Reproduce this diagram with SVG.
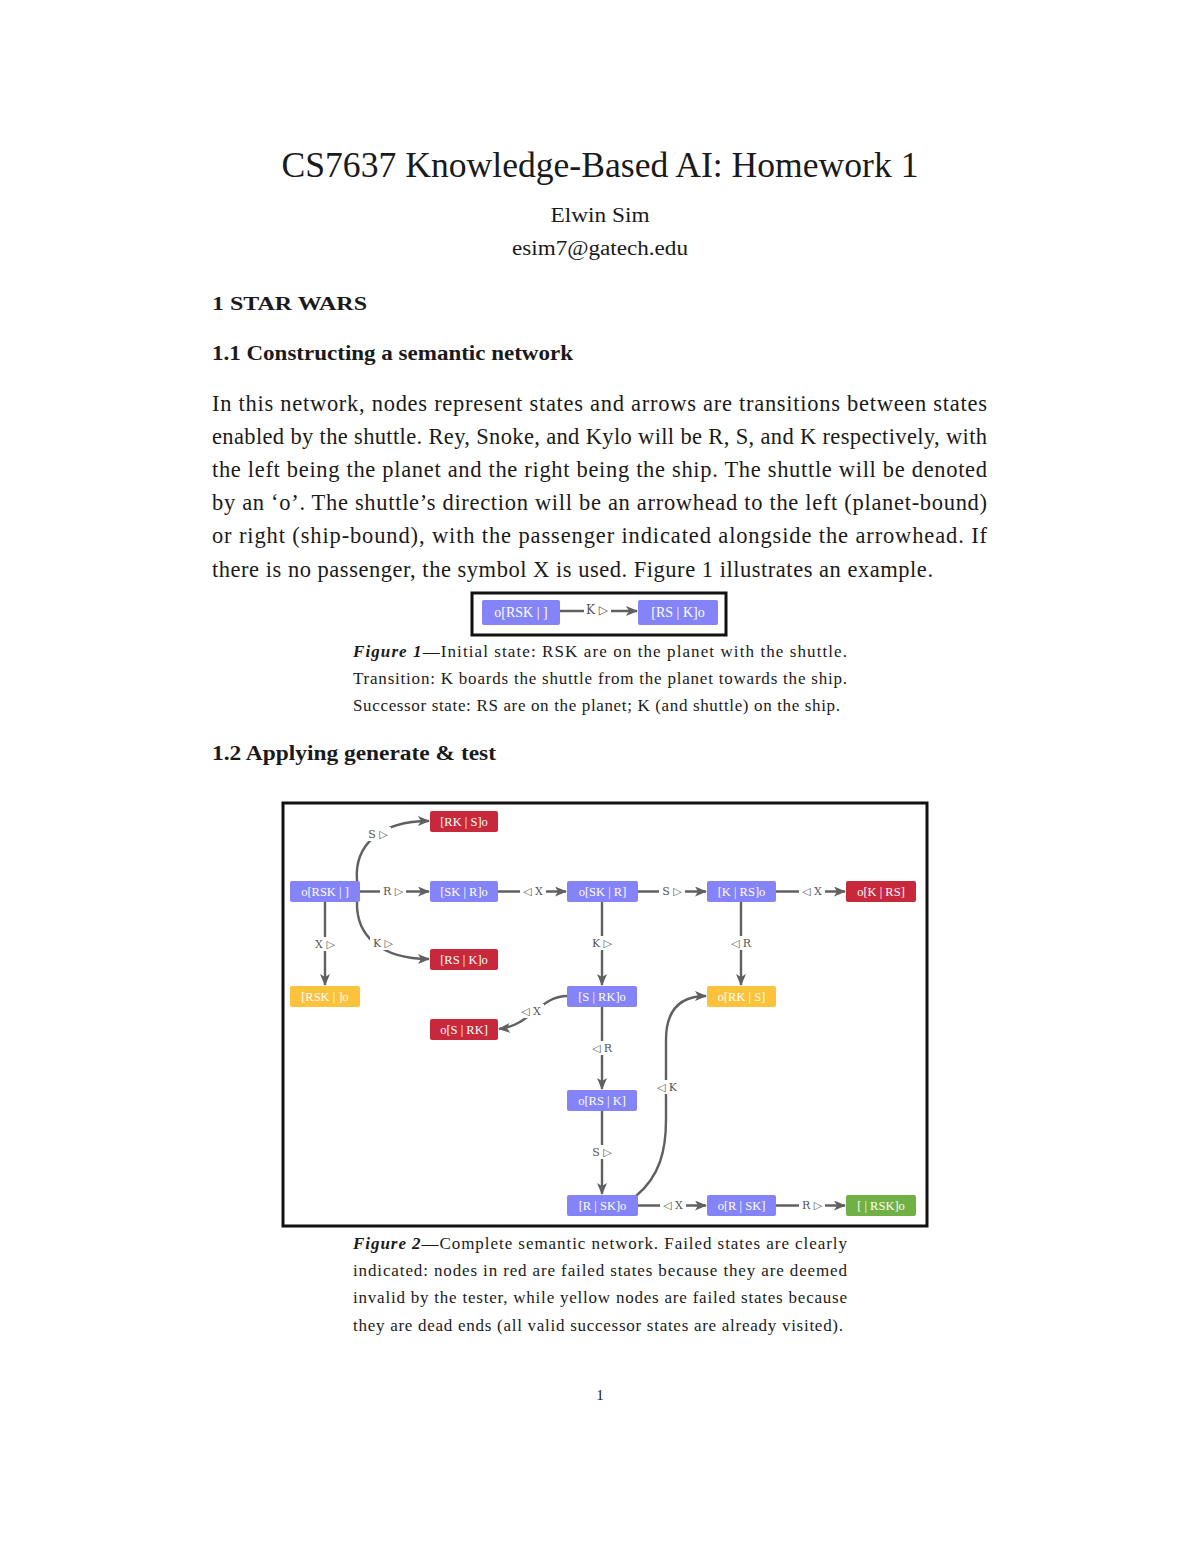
<svg xmlns="http://www.w3.org/2000/svg" width="1200" height="1553" viewBox="0 0 1200 1553">
<defs>
<style>
.t{font-family:"Liberation Serif","DejaVu Serif",serif;fill:#1a1a1a}
.b{font-weight:bold}
.bi{font-weight:bold;font-style:italic}
.nd text{font-family:"Liberation Serif","DejaVu Serif",serif;font-size:12.5px;fill:#ffffff;text-anchor:middle}
.blue{fill:#8484f8}
.red{fill:#c8283c}
.yel{fill:#fcc23c}
.grn{fill:#70b044}
.e{fill:none;stroke:#606060;stroke-width:2.4}
.lb{fill:#ffffff}
.lt{font-family:"DejaVu Serif","Liberation Serif",serif;font-size:11px;fill:#555555;text-anchor:middle}
</style>
<marker id="ah" viewBox="0 0 12 10" refX="11" refY="5" markerWidth="12" markerHeight="10" markerUnits="userSpaceOnUse" orient="auto">
<path d="M0,0 L12,5 L0,10 L3,5 Z" fill="#606060"/>
</marker>
</defs>
<rect width="1200" height="1553" fill="#ffffff"/>

<!-- Header text -->
<text class="t" x="600" y="177" font-size="35" text-anchor="middle" textLength="637" lengthAdjust="spacingAndGlyphs">CS7637 Knowledge-Based AI: Homework 1</text>
<text class="t" x="600" y="222" font-size="20" text-anchor="middle" textLength="99" lengthAdjust="spacingAndGlyphs">Elwin Sim</text>
<text class="t" x="600" y="255" font-size="20" text-anchor="middle" textLength="176" lengthAdjust="spacingAndGlyphs">esim7@gatech.edu</text>
<text class="t b" x="212" y="310" font-size="19" textLength="155" lengthAdjust="spacingAndGlyphs">1 STAR WARS</text>
<text class="t b" x="212" y="360" font-size="20" textLength="361" lengthAdjust="spacingAndGlyphs">1.1 Constructing a semantic network</text>

<text class="t" x="212" y="411" font-size="22.5" textLength="775" lengthAdjust="spacing">In this network, nodes represent states and arrows are transitions between states</text>
<text class="t" x="212" y="444" font-size="22.5" textLength="775" lengthAdjust="spacing">enabled by the shuttle. Rey, Snoke, and Kylo will be R, S, and K respectively, with</text>
<text class="t" x="212" y="477" font-size="22.5" textLength="775" lengthAdjust="spacing">the left being the planet and the right being the ship. The shuttle will be denoted</text>
<text class="t" x="212" y="510" font-size="22.5" textLength="775" lengthAdjust="spacing">by an ‘o’. The shuttle’s direction will be an arrowhead to the left (planet-bound)</text>
<text class="t" x="212" y="543" font-size="22.5" textLength="775" lengthAdjust="spacing">or right (ship-bound), with the passenger indicated alongside the arrowhead. If</text>
<text class="t" x="212" y="577" font-size="22.5" textLength="721" lengthAdjust="spacing">there is no passenger, the symbol X is used. Figure 1 illustrates an example.</text>

<!-- Figure 1 -->
<g id="figure1">
<rect x="472" y="593" width="254" height="42" fill="none" stroke="#111111" stroke-width="3"/>
<g id="f1-n1" class="nd"><rect class="blue" x="482" y="600" width="78" height="25" rx="2"/><text x="521" y="617" style="font-size:14px">o[RSK | ]</text></g>
<g id="f1-n2" class="nd"><rect class="blue" x="638" y="600" width="80" height="25" rx="2"/><text x="678" y="617" style="font-size:14px">[RS | K]o</text></g>
<g id="f1-edges">
<path class="e" d="M560 611 L637 611" marker-end="url(#ah)"/>
<rect class="lb" x="584" y="603" width="27" height="14"/>
<text class="lt" x="597" y="614" style="font-size:12px">K ▷</text>
</g>
</g>
<text class="t" x="353" y="657" font-size="17" textLength="494" lengthAdjust="spacing"><tspan class="bi">Figure 1</tspan>—Initial state: RSK are on the planet with the shuttle.</text>
<text class="t" x="353" y="684" font-size="17" textLength="494" lengthAdjust="spacing">Transition: K boards the shuttle from the planet towards the ship.</text>
<text class="t" x="353" y="711" font-size="17" textLength="487" lengthAdjust="spacing">Successor state: RS are on the planet; K (and shuttle) on the ship.</text>

<text class="t b" x="212" y="760" font-size="20" textLength="284" lengthAdjust="spacingAndGlyphs">1.2 Applying generate &amp; test</text>

<!-- Figure 2 -->
<rect x="283" y="803" width="644" height="423" fill="none" stroke="#111111" stroke-width="3"/>

<g id="connectors">
<path class="e" d="M357 881 C354 845 380 821 429 821" marker-end="url(#ah)"/>
<path class="e" d="M360 891.5 L429 891.5" marker-end="url(#ah)"/>
<path class="e" d="M357 902 C356 935 380 959 429 959" marker-end="url(#ah)"/>
<path class="e" d="M325 902 L325 985" marker-end="url(#ah)"/>
<path class="e" d="M498 891.5 L566 891.5" marker-end="url(#ah)"/>
<path class="e" d="M638 891.5 L706 891.5" marker-end="url(#ah)"/>
<path class="e" d="M776 891.5 L845 891.5" marker-end="url(#ah)"/>
<path class="e" d="M602 902 L602 985" marker-end="url(#ah)"/>
<path class="e" d="M741 902 L741 985" marker-end="url(#ah)"/>
<path class="e" d="M567 996 C540 996 530 1026 499 1029" marker-end="url(#ah)"/>
<path class="e" d="M602 1007 L602 1089" marker-end="url(#ah)"/>
<path class="e" d="M602 1111 L602 1194" marker-end="url(#ah)"/>
<path class="e" d="M636 1196 C660 1176 666 1150 666 1120 L666 1040 C666 1010 680 996 706 996" marker-end="url(#ah)"/>
<path class="e" d="M638 1205.5 L706 1205.5" marker-end="url(#ah)"/>
<path class="e" d="M776 1205.5 L845 1205.5" marker-end="url(#ah)"/>

<g id="labels">
<rect class="lb" x="365" y="827" width="26" height="14"/><text class="lt" x="378" y="838">S ▷</text>
<rect class="lb" x="380" y="884" width="26" height="14"/><text class="lt" x="393" y="895">R ▷</text>
<rect class="lb" x="370" y="936" width="26" height="14"/><text class="lt" x="383" y="947">K ▷</text>
<rect class="lb" x="312" y="937" width="26" height="14"/><text class="lt" x="325" y="948">X ▷</text>
<rect class="lb" x="520" y="884" width="26" height="14"/><text class="lt" x="533" y="895">◁ X</text>
<rect class="lb" x="659" y="884" width="26" height="14"/><text class="lt" x="672" y="895">S ▷</text>
<rect class="lb" x="799" y="884" width="26" height="14"/><text class="lt" x="812" y="895">◁ X</text>
<rect class="lb" x="589" y="936" width="26" height="14"/><text class="lt" x="602" y="947">K ▷</text>
<rect class="lb" x="728" y="936" width="26" height="14"/><text class="lt" x="741" y="947">◁ R</text>
<rect class="lb" x="518" y="1004" width="26" height="14"/><text class="lt" x="531" y="1015">◁ X</text>
<rect class="lb" x="589" y="1041" width="26" height="14"/><text class="lt" x="602" y="1052">◁ R</text>
<rect class="lb" x="654" y="1080" width="26" height="14"/><text class="lt" x="667" y="1091">◁ K</text>
<rect class="lb" x="589" y="1145" width="26" height="14"/><text class="lt" x="602" y="1156">S ▷</text>
<rect class="lb" x="660" y="1198" width="26" height="14"/><text class="lt" x="673" y="1209">◁ X</text>
<rect class="lb" x="799" y="1198" width="26" height="14"/><text class="lt" x="812" y="1209">R ▷</text>
</g>
</g>

<g id="n-oRSK" class="nd"><rect class="blue" x="290" y="881" width="70" height="21" rx="2"/><text x="325" y="896">o[RSK | ]</text></g>
<g id="n-RK-So" class="nd"><rect class="red" x="430" y="811" width="68" height="21" rx="2"/><text x="464" y="826">[RK | S]o</text></g>
<g id="n-SK-Ro" class="nd"><rect class="blue" x="430" y="881" width="68" height="21" rx="2"/><text x="464" y="896">[SK | R]o</text></g>
<g id="n-RS-Ko" class="nd"><rect class="red" x="430" y="949" width="68" height="21" rx="2"/><text x="464" y="964">[RS | K]o</text></g>
<g id="n-RSKo" class="nd"><rect class="yel" x="290" y="986" width="70" height="21" rx="2"/><text x="325" y="1001">[RSK | ]o</text></g>
<g id="n-oSK-R" class="nd"><rect class="blue" x="567" y="881" width="71" height="21" rx="2"/><text x="602.5" y="896">o[SK | R]</text></g>
<g id="n-K-RSo" class="nd"><rect class="blue" x="707" y="881" width="69" height="21" rx="2"/><text x="741.5" y="896">[K | RS]o</text></g>
<g id="n-oK-RS" class="nd"><rect class="red" x="846" y="881" width="70" height="21" rx="2"/><text x="881" y="896">o[K | RS]</text></g>
<g id="n-S-RKo" class="nd"><rect class="blue" x="567" y="986" width="70" height="21" rx="2"/><text x="602" y="1001">[S | RK]o</text></g>
<g id="n-oRK-S" class="nd"><rect class="yel" x="707" y="986" width="69" height="21" rx="2"/><text x="741.5" y="1001">o[RK | S]</text></g>
<g id="n-oS-RK" class="nd"><rect class="red" x="430" y="1019" width="68" height="21" rx="2"/><text x="464" y="1034">o[S | RK]</text></g>
<g id="n-oRS-K" class="nd"><rect class="blue" x="567" y="1090" width="70" height="21" rx="2"/><text x="602" y="1105">o[RS | K]</text></g>
<g id="n-R-SKo" class="nd"><rect class="blue" x="567" y="1195" width="71" height="21" rx="2"/><text x="602.5" y="1210">[R | SK]o</text></g>
<g id="n-oR-SK" class="nd"><rect class="blue" x="707" y="1195" width="69" height="21" rx="2"/><text x="741.5" y="1210">o[R | SK]</text></g>
<g id="n-RSKgoal" class="nd"><rect class="grn" x="846" y="1195" width="70" height="21" rx="2"/><text x="881" y="1210">[ | RSK]o</text></g>

<text class="t" x="353" y="1249" font-size="17" textLength="494" lengthAdjust="spacing"><tspan class="bi">Figure 2</tspan>—Complete semantic network. Failed states are clearly</text>
<text class="t" x="353" y="1276" font-size="17" textLength="494" lengthAdjust="spacing">indicated: nodes in red are failed states because they are deemed</text>
<text class="t" x="353" y="1303" font-size="17" textLength="494" lengthAdjust="spacing">invalid by the tester, while yellow nodes are failed states because</text>
<text class="t" x="353" y="1331" font-size="17" textLength="490" lengthAdjust="spacing">they are dead ends (all valid successor states are already visited).</text>

<text class="t" x="600" y="1400" font-size="15" text-anchor="middle">1</text>
</svg>
